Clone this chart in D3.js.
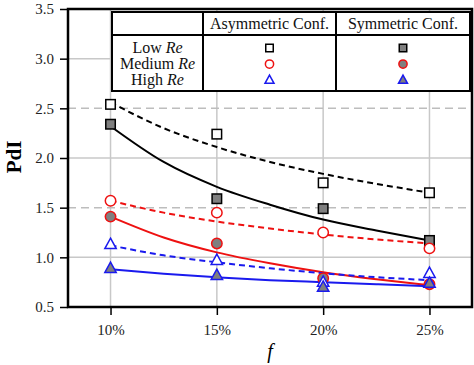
<!DOCTYPE html>
<html>
<head>
<meta charset="utf-8">
<script src="https://cdn.jsdelivr.net/npm/d3@7"></script>
<style>
  body { margin: 0; background: #fff; }
  text { font-family: "Liberation Serif", "DejaVu Serif", serif; }
</style>
</head>
<body>
<div id="chart"></div>
<script>
var svgWidth = 474;
var svgHeight = 365;

var margin = { top: 9, right: 2, bottom: 58, left: 68 };
var width = svgWidth - margin.left - margin.right;
var height = svgHeight - margin.top - margin.bottom;

// measured points
var fValues = [10, 15, 20, 25];
var asymLow = [2.54, 2.24, 1.75, 1.65];
var symLow = [2.34, 1.59, 1.49, 1.17];
var asymMed = [1.57, 1.45, 1.25, 1.09];
var symMed = [1.41, 1.14, 0.79, 0.73];
var asymHigh = [1.13, 0.97, 0.75, 0.84];
var symHigh = [0.89, 0.82, 0.70, 0.74];

// fitted trend curves
var fitF = [10, 12.5, 15, 17.5, 20, 22.5, 25];
var fitAsymLow = [2.56, 2.30, 2.11, 1.96, 1.84, 1.74, 1.65];
var fitSymLow = [2.32, 1.96, 1.71, 1.53, 1.38, 1.27, 1.17];
var fitAsymMed = [1.57, 1.45, 1.36, 1.29, 1.23, 1.18, 1.14];
var fitSymMed = [1.41, 1.20, 1.05, 0.94, 0.85, 0.78, 0.72];
var fitAsymHigh = [1.12, 1.02, 0.95, 0.89, 0.84, 0.80, 0.77];
var fitSymHigh = [0.88, 0.835, 0.80, 0.77, 0.75, 0.73, 0.71];

var yTicks = [0.5, 1.0, 1.5, 2.0, 2.5, 3.0, 3.5];
var dashedGrid = [1.5, 2.5];
var solidGrid = [1.0, 2.0, 3.0];

var rowLabels = ["Low", "Medium", "High"];
var colLabels = ["Asymmetric Conf.", "Symmetric Conf."];

var black = "#000", red = "#ee1111", blue = "#1a1aee", grey = "#7f7f7f";

var series = [
  { pts: asymLow, fit: fitAsymLow, color: black, shape: "square", filled: false, dash: true },
  { pts: symLow, fit: fitSymLow, color: black, shape: "square", filled: true, dash: false },
  { pts: asymMed, fit: fitAsymMed, color: red, shape: "circle", filled: false, dash: true },
  { pts: symMed, fit: fitSymMed, color: red, shape: "circle", filled: true, dash: false },
  { pts: asymHigh, fit: fitAsymHigh, color: blue, shape: "triangle", filled: false, dash: true },
  { pts: symHigh, fit: fitSymHigh, color: blue, shape: "triangle", filled: true, dash: false }
];

var svg = d3.select("#chart")
  .append("svg")
  .attr("width", svgWidth)
  .attr("height", svgHeight);

var chartGroup = svg.append("g")
  .attr("transform", `translate(${margin.left}, ${margin.top})`);

var xScale = d3.scaleLinear().domain([8, 27]).range([0, width]);
var yScale = d3.scaleLinear().domain([0.5, 3.5]).range([height, 0]);

// grid
chartGroup.selectAll(".vgrid")
  .data(fValues)
  .enter()
  .append("line")
  .attr("x1", d => xScale(d)).attr("x2", d => xScale(d))
  .attr("y1", 0).attr("y2", height)
  .attr("stroke", "#c8c8c8").attr("stroke-width", 1.5);

chartGroup.selectAll(".hgrid")
  .data(solidGrid)
  .enter()
  .append("line")
  .attr("x1", 0).attr("x2", width)
  .attr("y1", d => yScale(d)).attr("y2", d => yScale(d))
  .attr("stroke", "#c8c8c8").attr("stroke-width", 1.5);

chartGroup.selectAll(".dgrid")
  .data(dashedGrid)
  .enter()
  .append("line")
  .attr("x1", 0).attr("x2", width)
  .attr("y1", d => yScale(d)).attr("y2", d => yScale(d))
  .attr("stroke", "#bdbdbd").attr("stroke-width", 1.5)
  .attr("stroke-dasharray", "8,5");

// axes
var bottomAxis = d3.axisBottom(xScale).tickValues(fValues).tickFormat(d => d + "%").tickSizeOuter(0).tickSize(8);
var leftAxis = d3.axisLeft(yScale).tickValues(yTicks).tickFormat(d3.format(".1f")).tickSizeOuter(0).tickSize(8);

var xAxisG = chartGroup.append("g")
  .attr("transform", `translate(0, ${height})`)
  .call(bottomAxis);
var yAxisG = chartGroup.append("g").call(leftAxis);

[xAxisG, yAxisG].forEach(g => {
  g.select(".domain").remove();
  g.selectAll(".tick line").attr("stroke", "#000").attr("stroke-width", 1.5);
  g.selectAll(".tick text")
    .attr("font-family", "DejaVu Serif, serif")
    .attr("font-size", 15)
    .attr("fill", "#222");
});
xAxisG.selectAll(".tick text").attr("dy", "1.15em");
yAxisG.selectAll(".tick text").attr("dx", "-0.2em");

// frame
chartGroup.append("rect")
  .attr("width", width).attr("height", height)
  .attr("fill", "none").attr("stroke", "#000").attr("stroke-width", 2.5);

// fit curves
var line = d3.line()
  .x((d, i) => xScale(fitF[i]))
  .y(d => yScale(d))
  .curve(d3.curveMonotoneX);

chartGroup.selectAll(".fit")
  .data(series)
  .enter()
  .append("path")
  .attr("d", d => line(d.fit))
  .attr("fill", "none")
  .attr("stroke", d => d.color)
  .attr("stroke-width", 2)
  .attr("stroke-dasharray", d => d.dash ? "6,4" : null);

function drawMarker(g, s, cx, cy, size) {
  var fill = s.filled ? grey : "#fff";
  if (s.shape === "square") {
    g.append("rect")
      .attr("x", cx - size / 2).attr("y", cy - size / 2)
      .attr("width", size).attr("height", size)
      .attr("fill", fill).attr("stroke", s.color).attr("stroke-width", 1.5);
  } else if (s.shape === "circle") {
    g.append("circle")
      .attr("cx", cx).attr("cy", cy).attr("r", size * 0.55)
      .attr("fill", fill).attr("stroke", s.color).attr("stroke-width", 1.5);
  } else {
    var h = size * 1.05, w = size * 1.2;
    g.append("path")
      .attr("d", `M${cx},${cy - h * 0.62}L${cx + w / 2},${cy + h * 0.42}L${cx - w / 2},${cy + h * 0.42}Z`)
      .attr("fill", fill).attr("stroke", s.color).attr("stroke-width", 1.5);
  }
}

// markers
var markGroup = chartGroup.append("g");
series.forEach(s => {
  s.pts.forEach((v, i) => {
    drawMarker(markGroup, s, xScale(fValues[i]), yScale(v), 9.5);
  });
});

// legend table
var lg = svg.append("g");
var lx0 = 112, lx1 = 203, lx2 = 336, lx3 = 470, ly0 = 12, ly1 = 35, ly2 = 91;
lg.append("rect")
  .attr("x", lx0).attr("y", ly0).attr("width", lx3 - lx0).attr("height", ly2 - ly0)
  .attr("fill", "#fff").attr("stroke", "#000").attr("stroke-width", 2);
lg.append("line").attr("x1", lx0).attr("x2", lx3).attr("y1", ly1).attr("y2", ly1).attr("stroke", "#000").attr("stroke-width", 2);
[lx1, lx2].forEach(x => {
  lg.append("line").attr("x1", x).attr("x2", x).attr("y1", ly0).attr("y2", ly2).attr("stroke", "#000").attr("stroke-width", 2);
});

lg.selectAll(".colhead")
  .data(colLabels)
  .enter()
  .append("text")
  .attr("x", (d, i) => i === 0 ? (lx1 + lx2) / 2 : (lx2 + lx3) / 2)
  .attr("y", 29)
  .attr("text-anchor", "middle")
  .attr("font-size", 16)
  .attr("fill", "#111")
  .text(d => d);

var rowY = [48, 64, 80];
rowLabels.forEach((r, i) => {
  var t = lg.append("text")
    .attr("x", (lx0 + lx1) / 2)
    .attr("y", rowY[i] + 5)
    .attr("text-anchor", "middle")
    .attr("font-size", 16)
    .attr("fill", "#111");
  t.append("tspan").text(r + " ");
  t.append("tspan").attr("font-style", "italic").text("Re");
});

series.forEach((s, k) => {
  var row = Math.floor(k / 2), col = k % 2;
  var cx = col === 0 ? (lx1 + lx2) / 2 : (lx2 + lx3) / 2;
  drawMarker(lg, s, cx, rowY[row], 7.5);
});

// axis titles
svg.append("text")
  .attr("transform", "translate(21, 157) rotate(-90)")
  .attr("text-anchor", "middle")
  .attr("font-size", 21)
  .attr("font-weight", "bold")
  .text("PdI");

svg.append("text")
  .attr("x", 270)
  .attr("y", 358)
  .attr("text-anchor", "middle")
  .attr("font-size", 20)
  .attr("font-style", "italic")
  .text("f");
</script>
</body>
</html>
